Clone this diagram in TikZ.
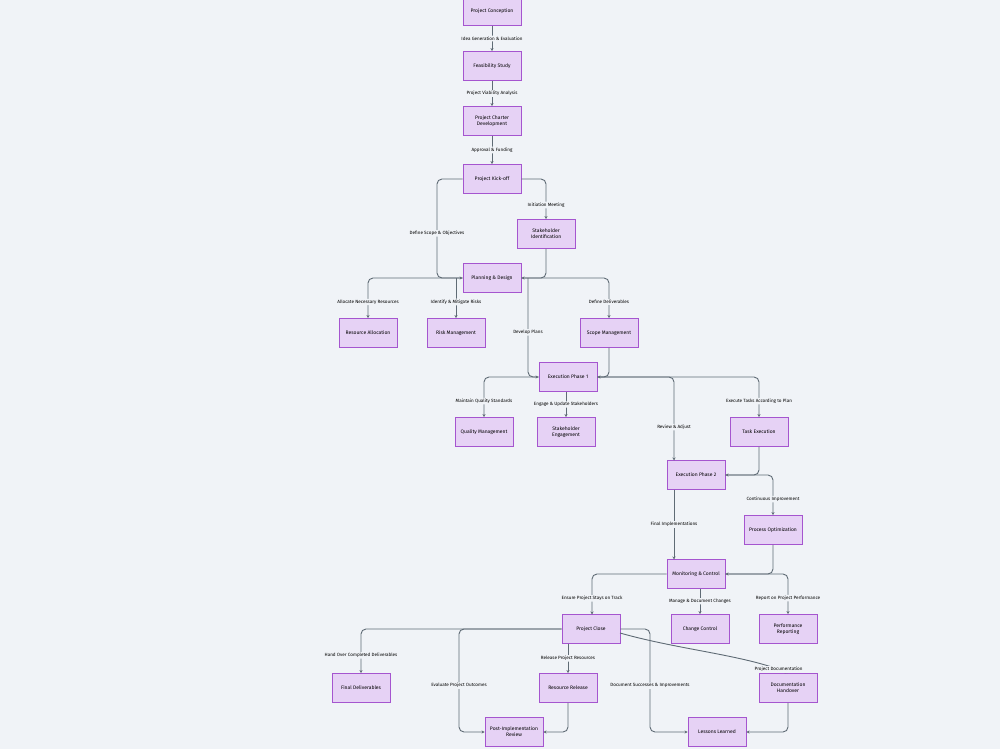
\documentclass[tikz,border=0pt]{standalone}
\usepackage{fontspec}
\setmainfont{Fira Sans}
\usetikzlibrary{arrows.meta}
\definecolor{bg}{HTML}{F0F3F7}
\definecolor{bx}{HTML}{E6D2F5}
\definecolor{bd}{HTML}{A555CF}
\definecolor{ln}{HTML}{5F6B75}
\tikzset{
 box/.style={draw=bd,fill=bx,line width=0.9pt,minimum width=58pt,minimum height=29pt,align=center,font=\fontsize{5}{6}\selectfont,inner sep=1pt},
 e/.style={draw=ln,line width=0.9pt,rounded corners=5pt,-{Stealth[length=3pt,width=3pt]}},
 lb/.style={fill=bg,font=\fontsize{4.6}{5.5}\selectfont,inner sep=1pt}
}
\begin{document}
\begin{tikzpicture}[x=1pt,y=-1pt]
\fill[bg] (0,0) rectangle (1000,749);
\useasboundingbox (0,0) rectangle (1000,749);
\node[box] (con) at (492,11) {Project Conception};
\node[box] (fea) at (492,66) {Feasibility Study};
\node[box] (cha) at (492,121) {Project Charter\\Development};
\node[box] (kic) at (492,179) {Project Kick-off};
\node[box] (sti) at (546,234) {Stakeholder\\Identification};
\node[box] (pla) at (492,278) {Planning \& Design};
\node[box] (res) at (368,333) {Resource Allocation};
\node[box] (ris) at (456,333) {Risk Management};
\node[box] (sco) at (609,333) {Scope Management};
\node[box] (ex1) at (568,377) {Execution Phase 1};
\node[box] (qua) at (484,432) {Quality Management};
\node[box] (ste) at (566,432) {Stakeholder\\Engagement};
\node[box] (tas) at (759,432) {Task Execution};
\node[box] (ex2) at (696,475) {Execution Phase 2};
\node[box] (pro) at (773,530) {Process Optimization};
\node[box] (mon) at (696,574) {Monitoring \& Control};
\node[box] (clo) at (591,629) {Project Close};
\node[box] (chg) at (700,629) {Change Control};
\node[box] (per) at (788,629) {Performance\\Reporting};
\node[box] (fin) at (361,688) {Final Deliverables};
\node[box] (rel) at (568,688) {Resource Release};
\node[box] (doc) at (788,688) {Documentation\\Handover};
\node[box] (pir) at (514,732) {Post-Implementation\\Review};
\node[box] (les) at (717,732) {Lessons Learned};
\coordinate (pd) at (528,278);
\coordinate (e2t) at (674,460.5);
\coordinate (e2b) at (674,489.5);
\coordinate (mt) at (674,559.5);
\coordinate (mb) at (700,588.5);
\coordinate (ct) at (592,614.5);
\coordinate (cb) at (568,643.5);

\draw[e] (con) -- node[lb]{Idea Generation \& Evaluation} (fea);
\draw[e] (fea) -- node[lb]{Project Viability Analysis} (cha);
\draw[e] (cha) -- node[lb]{Approval \& Funding} (kic);
\draw[e] (kic.west) -- (437,179) -- node[lb,pos=0.55]{Define Scope \& Objectives} (437,278) -- (pla.west);
\draw[e] (kic.east) -- (546,179) -- node[lb,pos=0.65]{Initiation Meeting} (sti.north);
\draw[e] (sti.south) -- (546,278) -- (pla.east);
\draw[e] (pla.west) -- (368,278) -- node[lb,pos=0.6]{Allocate Necessary Resources} (res.north);
\draw[e] (ris.north |- pla.west) -- node[lb,pos=0.6]{Identify \& Mitigate Risks} (ris.north);
\draw[e] (pla.east) -- (609,278) -- node[lb,pos=0.6]{Define Deliverables} (sco.north);
\draw[e] (pd) -- node[lb,pos=0.55]{Develop Plans} (528,377) -- (ex1.west);
\draw[e] (sco.south) -- (609,377) -- (ex1.east);
\draw[e] (ex1.west) -- (484,377) -- node[lb,pos=0.6]{Maintain Quality Standards} (qua.north);
\draw[e] (ex1.south -| ste.north) -- node[lb,pos=0.5]{Engage \& Update Stakeholders} (ste.north);
\draw[e] (ex1.east) -- (674,377) -- node[lb,pos=0.6]{Review \& Adjust} (e2t);
\draw[e] (ex1.east) -- (759,377) -- node[lb,pos=0.6]{Execute Tasks According to Plan} (tas.north);
\draw[e] (tas.south) -- (759,475) -- (ex2.east);
\draw[e] (ex2.east) -- (773,475) -- node[lb,pos=0.6]{Continuous Improvement} (pro.north);
\draw[e] (e2b) -- node[lb]{Final Implementations} (mt);
\draw[e] (pro.south) -- (773,574) -- (mon.east);
\draw[e] (mon.west) -- (592,574) -- node[lb,pos=0.6]{Ensure Project Stays on Track} (ct);
\draw[e] (mb) -- node[lb]{Manage \& Document Changes} (chg.north);
\draw[e] (mon.east) -- (788,574) -- node[lb,pos=0.6]{Report on Project Performance} (per.north);
\draw[e] (clo.west) -- (361,629) -- node[lb,pos=0.6]{Hand Over Completed Deliverables} (fin.north);
\draw[e] (clo.west) -- (459,629) -- node[lb,pos=0.55]{Evaluate Project Outcomes} (459,732) -- (pir.west);
\draw[e] (cb) -- node[lb]{Release Project Resources} (rel.north);
\draw[e] (clo.east) -- (650,629) -- node[lb,pos=0.55]{Document Successes \& Improvements} (650,732) -- (les.west);
\draw[e,rounded corners=0pt] (620,633) .. controls (680,650) and (745,655) .. node[lb,pos=0.93]{Project Documentation} (doc.north);
\draw[e] (rel.south) -- (568,732) -- (pir.east);
\draw[e] (doc.south) -- (788,732) -- (les.east);
\end{tikzpicture}
\end{document}
